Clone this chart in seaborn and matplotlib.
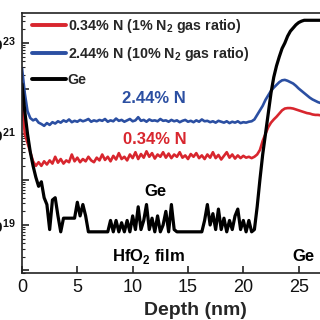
import numpy as np
import pandas as pd
import matplotlib
matplotlib.use('Agg')
import matplotlib.pyplot as plt
import seaborn as sns

sns.set_theme(style='ticks')
plt.rcParams['font.family'] = ['Liberation Sans', 'DejaVu Sans']
plt.rcParams['mathtext.fontset'] = 'custom'
plt.rcParams['mathtext.rm'] = 'Liberation Sans'
plt.rcParams['mathtext.bf'] = 'Liberation Sans:bold'

# depth grid of the SIMS profiles (nm)
depth = [0.0, 0.25, 0.5, 0.75, 1.0, 1.25, 1.5, 1.75, 2.0, 2.25, 2.5, 2.75,
         3.0, 3.25, 3.5, 3.75, 4.0, 4.25, 4.5, 4.75, 5.0, 5.25, 5.5, 5.75,
         6.0, 6.25, 6.5, 6.75, 7.0, 7.25, 7.5, 7.75, 8.0, 8.25, 8.5, 8.75,
         9.0, 9.25, 9.5, 9.75, 10.0, 10.25, 10.5, 10.75, 11.0, 11.25, 11.5, 11.75,
         12.0, 12.25, 12.5, 12.75, 13.0, 13.25, 13.5, 13.75, 14.0, 14.25, 14.5, 14.75,
         15.0, 15.25, 15.5, 15.75, 16.0, 16.25, 16.5, 16.75, 17.0, 17.25, 17.5, 17.75,
         18.0, 18.25, 18.5, 18.75, 19.0, 19.25, 19.5, 19.75, 20.0, 20.25, 20.5, 20.75,
         21.0, 21.25, 21.5, 21.75, 22.0, 22.25, 22.5, 22.75, 23.0, 23.25, 23.5, 23.75,
         24.0, 24.25, 24.5, 24.75, 25.0, 25.25, 25.5, 25.75, 26.0, 26.25, 26.5, 26.75,
         27.0]

# log10 of concentration (atoms/cm3)
log_n_low = [21.8, 21.0, 20.8, 20.6, 20.4, 20.3, 20.38, 20.3, 20.4, 20.33, 20.42, 20.35,
             20.5, 20.37, 20.45, 20.35, 20.42, 20.38, 20.55, 20.4, 20.48, 20.38, 20.45, 20.4,
             20.5, 20.42, 20.38, 20.48, 20.42, 20.55, 20.43, 20.5, 20.4, 20.52, 20.44, 20.58,
             20.45, 20.5, 20.42, 20.55, 20.47, 20.6, 20.45, 20.56, 20.48, 20.62, 20.5, 20.58,
             20.46, 20.55, 20.5, 20.6, 20.48, 20.57, 20.47, 20.55, 20.5, 20.6, 20.48, 20.53,
             20.45, 20.56, 20.5, 20.58, 20.47, 20.53, 20.45, 20.55, 20.48, 20.6, 20.47, 20.54,
             20.44, 20.52, 20.6, 20.48, 20.55, 20.46, 20.53, 20.47, 20.52, 20.48, 20.5, 20.47,
             20.5, 20.55, 20.65, 20.85, 21.0, 21.15, 21.25, 21.32, 21.38, 21.45, 21.52, 21.56,
             21.57, 21.57, 21.56, 21.54, 21.52, 21.5, 21.48, 21.46, 21.45, 21.43, 21.42, 21.42,
             21.41]

log_n_high = [22.45, 21.9, 21.5, 21.35, 21.3, 21.33, 21.25, 21.22, 21.18, 21.24, 21.2, 21.26,
              21.23, 21.28, 21.25, 21.3, 21.27, 21.32, 21.26, 21.29, 21.27, 21.31, 21.28, 21.3,
              21.33, 21.27, 21.3, 21.28, 21.31, 21.29, 21.33, 21.27, 21.3, 21.28, 21.34, 21.29,
              21.31, 21.27, 21.3, 21.33, 21.28, 21.3, 21.37, 21.29, 21.31, 21.27, 21.32, 21.29,
              21.3, 21.28, 21.33, 21.29, 21.3, 21.27, 21.31, 21.28, 21.3, 21.26, 21.29, 21.31,
              21.27, 21.29, 21.26, 21.3, 21.27, 21.32, 21.28, 21.29, 21.26, 21.28, 21.25, 21.29,
              21.27, 21.25, 21.28, 21.24, 21.27, 21.25, 21.28, 21.24, 21.26, 21.25, 21.27, 21.28,
              21.32, 21.42, 21.52, 21.62, 21.75, 21.85, 21.95, 22.02, 22.08, 22.14, 22.18, 22.19,
              22.17, 22.14, 22.11, 22.06, 22.0, 21.95, 21.9, 21.85, 21.8, 21.76, 21.73, 21.7,
              21.68]

log_ge = [22.1, 21.5, 21.0, 20.6, 20.3, 20.05, 19.85, 19.95, 19.6, 19.45, 18.9, 19.55,
          19.6, 19.2, 18.85, 19.15, 19.15, 19.15, 19.15, 19.15, 19.5, 19.2, 19.45, 19.2,
          18.85, 18.85, 18.85, 18.85, 18.85, 18.85, 18.85, 18.85, 19.1, 18.85, 19.1, 18.85,
          19.05, 18.85, 19.1, 18.85, 19.2, 18.9, 19.4, 18.9, 19.1, 19.45, 18.9, 19.15,
          18.85, 19.2, 18.85, 19.0, 19.3, 18.85, 19.45, 18.9, 18.85, 18.85, 18.85, 18.85,
          18.85, 18.85, 18.85, 18.85, 18.85, 18.85, 19.1, 19.45, 19.0, 19.25, 18.9, 19.35,
          18.9, 19.15, 18.85, 19.1, 18.9, 19.2, 19.35, 18.9, 19.1, 18.85, 19.1, 18.85,
          18.9, 19.4, 20.0, 20.55, 21.0, 21.45, 21.9, 22.25, 22.5, 22.7, 22.88, 23.0,
          23.15, 23.26, 23.33, 23.4, 23.45, 23.48, 23.5, 23.5, 23.5, 23.5, 23.5, 23.5,
          23.5]

labels = ['0.34% N (1% N$_\\mathbf{2}$ gas ratio)',
          '2.44% N (10% N$_\\mathbf{2}$ gas ratio)',
          'Ge']
colors = ['#d8262e', '#2b4fa2', '#000000']

df = pd.DataFrame({'depth': depth,
                   labels[0]: np.power(10.0, log_n_low),
                   labels[1]: np.power(10.0, log_n_high),
                   labels[2]: np.power(10.0, log_ge)})

fig = plt.figure(figsize=(3.2, 3.2), dpi=100)
ax = fig.add_axes([22 / 320, 47 / 320, 332 / 320, 260 / 320])

for lab, col, lw in zip(labels, colors, [1.9, 1.9, 2.3]):
    sns.lineplot(data=df, x='depth', y=lab, color=col, lw=lw, label=lab, ax=ax)

ax.set_yscale('log')
ax.set_xlim(0, 30)
ax.set_ylim(10 ** 17.945, 10 ** 23.66)

ax.set_xticks([0, 5, 10, 15, 20, 25])
ax.set_xticklabels(['0', '5', '10', '15', '20', '25'], fontsize=13)
ax.set_yticks([1e18, 1e19, 1e20, 1e21, 1e22, 1e23])
ax.set_yticklabels(['', r'$\mathbf{10^{19}}$', '', r'$\mathbf{10^{21}}$', '',
                    r'$\mathbf{10^{23}}$'], fontsize=11)
ax.yaxis.set_minor_locator(matplotlib.ticker.LogLocator(base=10, subs=np.arange(2, 10)))
ax.yaxis.set_minor_formatter(matplotlib.ticker.NullFormatter())
ax.tick_params(which='major', direction='in', length=5, width=1.1, pad=4, colors='#111111')
ax.tick_params(axis='y', which='major', pad=4.5)
ax.tick_params(which='minor', direction='in', length=2.5, width=0.8)
for s in ax.spines.values():
    s.set_linewidth(1.2)
    s.set_color('#222222')

ax.set_xlabel('Depth (nm)', fontsize=14, fontweight='bold')
ax.xaxis.set_label_coords(0.521, -0.112)
ax.set_ylabel('')

ax.text(11.9, 10 ** 21.79, '2.44% N', color=colors[1], fontsize=12, fontweight='bold',
        ha='center', va='center')
ax.text(12.0, 10 ** 20.89, '0.34% N', color=colors[0], fontsize=12, fontweight='bold',
        ha='center', va='center')
ax.text(12.1, 10 ** 19.73, 'Ge', color='black', fontsize=12, fontweight='bold',
        ha='center', va='center')
ax.text(11.4, 10 ** 18.3, 'HfO$_\\mathbf{2}$ film', color='black', fontsize=12,
        fontweight='bold', ha='center', va='center')
ax.text(25.4, 10 ** 18.3, 'Ge', color='black', fontsize=12, fontweight='bold',
        ha='center', va='center')

leg = ax.legend(loc='upper left', bbox_to_anchor=(0.0, 1.023), frameon=False,
                prop={'weight': 'bold', 'size': 10.3}, handlelength=2.4,
                handletextpad=0.1, labelspacing=0.7, borderaxespad=0.3)
for line in leg.get_lines():
    line.set_linewidth(2.8)

fig.savefig('out.png', dpi=100)
